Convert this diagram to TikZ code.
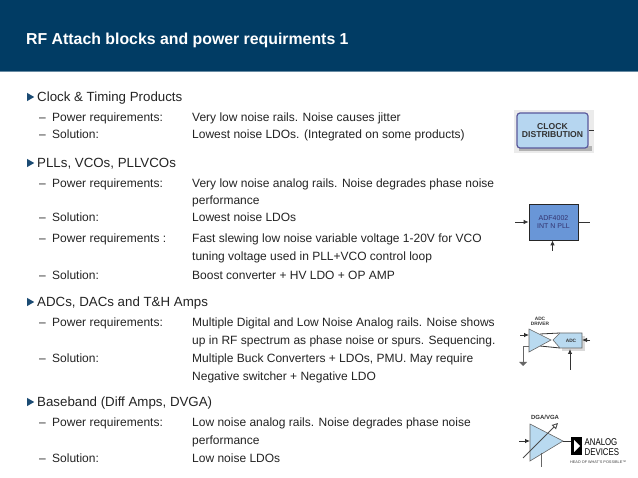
\documentclass[tikz,border=0pt]{standalone}
\usepackage{fontspec}
\setmainfont{Liberation Sans}
\usetikzlibrary{arrows,arrows.meta,calc,shapes.geometric}
\definecolor{headblue}{RGB}{1,60,100}
\definecolor{bodygrey}{RGB}{35,35,35}
\definecolor{bulletblue}{RGB}{27,75,115}
\definecolor{boxblue}{RGB}{182,214,240}
\definecolor{pllblue}{RGB}{105,150,215}
\definecolor{ampblue}{RGB}{185,218,240}
\tikzset{
  toptext/.style={anchor=base west,text=bodygrey,inner sep=0pt,font=\fontsize{13.3}{15}\selectfont},
  subtext/.style={anchor=base west,text=bodygrey,inner sep=0pt,font=\fontsize{12}{14}\selectfont},
  bulletmark/.style={fill=bulletblue,draw=none,isosceles triangle,isosceles triangle apex angle=60,inner sep=0pt,minimum height=7pt,minimum width=8pt,anchor=west},
  tinytext/.style={inner sep=0pt,align=center,text=black!80,font=\bfseries\fontsize{4.8}{5}\selectfont},
  wire/.style={line width=0.8pt,draw=black!80},
  wirearrow/.style={wire,-{Latex[length=5pt,width=4.5pt]}},
}
\begin{document}
\begin{tikzpicture}[x=1pt,y=-1pt]
  \useasboundingbox (0,0) rectangle (638,478);
  \fill[headblue] (0,0) rectangle (638,71);
  \draw[headblue!60,line width=0.7pt] (0,71) -- (638,71);
  \node[anchor=base west,inner sep=0pt,text=white,font=\bfseries\fontsize{15.85}{18}\selectfont] (title) at (26,45) {RF Attach blocks and power requirments 1};

  % bullets and headings
  \foreach \name/\ypos/\txt in {clock/102/Clock \& Timing Products,pll/168/{PLLs, VCOs, PLLVCOs},adc/307/{ADCs, DACs and T\&H Amps},base/407/{Baseband (Diff Amps, DVGA)}}{
    \node[bulletmark] (mark\name) at (27,\ypos-5) {};
    \node[toptext] (head\name) at (37,\ypos) {\txt};
  }

  % dashes with the left column
  \foreach \name/\ypos/\txt in {a/121.5/Power requirements:,b/139/Solution:,c/187.5/Power requirements:,d/222/Solution:,e/243/Power requirements :,f/279.5/Solution:,g/327/Power requirements:,h/362.5/Solution:,i/427/Power requirements:,j/462.5/Solution:}{
    \node[subtext] (dash\name) at (39,\ypos) {--};
    \node[subtext] (label\name) at (52,\ypos) {\txt};
  }

  % right column
  \foreach \name/\ypos/\txt in {a/121.5/Very low noise rails. Noise causes jitter,
    b/139/Lowest noise LDOs. (Integrated on some products),
    c/187.5/Very low noise analog rails. Noise degrades phase noise,
    cc/205/performance,
    d/222/Lowest noise LDOs,
    e/243/Fast slewing low noise variable voltage 1-20V for VCO,
    ee/261/tuning voltage used in PLL+VCO control loop,
    f/279.5/Boost converter + HV LDO + OP AMP,
    g/327/Multiple Digital and Low Noise Analog rails. Noise shows,
    gg/345/up in RF spectrum as phase noise or spurs. Sequencing.,
    h/362.5/{Multiple Buck Converters + LDOs, PMU. May require},
    hh/380.5/Negative switcher + Negative LDO,
    i/427/Low noise analog rails. Noise degrades phase noise,
    ii/445/performance,
    j/462.5/Low noise LDOs}{
    \node[subtext] (text\name) at (192,\ypos) {\txt};
  }

  % clock distribution
  \fill[black!8] (514,110) rectangle (594,153);
  \fill[black!30] (519,146) rectangle (592,151);
  \node[draw=blue!40!black!65,line width=1.2pt,fill=boxblue,rounded corners=3pt,minimum width=71pt,minimum height=35pt,inner sep=0pt,align=center,font=\bfseries\fontsize{8.6}{8.6}\selectfont,text=black!80] (clockbox) at (552.5,130.5) {CLOCK\\DISTRIBUTION};
  \coordinate (clockout) at (594,130);
  \draw[wire] (clockbox.east |- clockout) -- (clockout);

  % pll
  \node[draw=black!85,line width=0.8pt,fill=pllblue,minimum width=49pt,minimum height=36pt,inner sep=0pt,align=center,text=blue!30!black!80,font=\fontsize{7}{8.5}\selectfont] (pllbox) at (553.5,222) {ADF4002\\INT N PLL};
  \coordinate (pllin) at (515,222);
  \coordinate (pllout) at (590,222);
  \coordinate (pllctl) at (552.5,251);
  \draw[wirearrow] (pllin) -- (pllbox.west);
  \draw[wire] (pllbox.east) -- (pllout);
  \draw[wirearrow] (pllctl) -- (pllctl |- pllbox.south);

  % adc driver
  \coordinate (drvtop) at (529,329);
  \coordinate (drvbot) at (529,352);
  \coordinate (drvtip) at (551,340);
  \coordinate (drvin) at (520,335);
  \coordinate (adctop) at (560,333);
  \coordinate (adcbot) at (560,348);
  \coordinate (adcout) at (590,340);
  \coordinate (adcclk) at (570,370);
  \coordinate (gndtop) at (523,346);
  \coordinate (gndbot) at (523,362);
  \fill[black!15] (562,336) rectangle (585,351);
  \draw[wire] (540,334) -- (adctop);
  \draw[wire] (540,346) -- (adcbot);
  \draw[black!60,fill=ampblue,line width=0.6pt] (drvtop) -- (drvtip) -- (drvbot) -- cycle;
  \draw[black!60,fill=ampblue,line width=0.6pt] (553,340) -- (adctop) -- (582,333) -- (582,348) -- (adcbot) -- cycle;
  \node[tinytext] (adctext) at (571,340.5) {ADC};
  \node[tinytext] (drvtext) at (540,321) {ADC\\DRIVER};
  \draw[wirearrow] (drvin) -- (drvin -| drvtop);
  \draw[wirearrow] (adcout) -- (582,340);
  \draw[wirearrow] (adcclk) -- (570,349);
  \draw[wire,black!60] (529,346) -- (gndtop) -- (gndbot);
  \fill[black!60] (519,362) -- (527,362) -- (523,366) -- cycle;

  % dga / vga
  \coordinate (dgatop) at (530,424);
  \coordinate (dgabot) at (530,461);
  \coordinate (dgatip) at (563,441);
  \coordinate (dgain) at (519,441);
  \coordinate (dgaout) at (571,441);
  \coordinate (gainfrom) at (523,458);
  \coordinate (gainto) at (558,423);
  \coordinate (ctlfrom) at (541,453);
  \coordinate (ctlto) at (541,467);
  \draw[black!60,fill=ampblue,line width=0.6pt] (dgatop) -- (dgatip) -- (dgabot) -- cycle;
  \node[tinytext,font=\bfseries\fontsize{6}{6}\selectfont] (dgatext) at (545,417) {DGA/VGA};
  \draw[wirearrow] (dgain) -- (dgain -| dgatop);
  \draw[wire] (dgatip) -- (dgaout);
  \draw[wire,black!70,line width=0.9pt,-{Triangle[open,length=6pt,width=6pt]}] (gainfrom) -- (gainto);
  \draw[wire,black!60] (ctlfrom) -- (ctlto);

  % logo
  \fill[black] (571,437) rectangle (582,455);
  \fill[white] (574,440) -- (580,446) -- (574,452) -- cycle;
  \node[anchor=base west,inner sep=0pt,text=black,font=\fontsize{9.8}{10}\selectfont,xscale=0.8] (logotop) at (584.5,446) {ANALOG};
  \node[anchor=base west,inner sep=0pt,text=black,font=\fontsize{9.8}{10}\selectfont,xscale=0.8] (logobot) at (584.5,455.5) {DEVICES};
  \node[anchor=base west,inner sep=0pt,text=black!75,font=\fontsize{3.8}{4}\selectfont] (logotag) at (570,464) {HEAD OF WHAT'S POSSIBLE\texttrademark};
\end{tikzpicture}
\end{document}
